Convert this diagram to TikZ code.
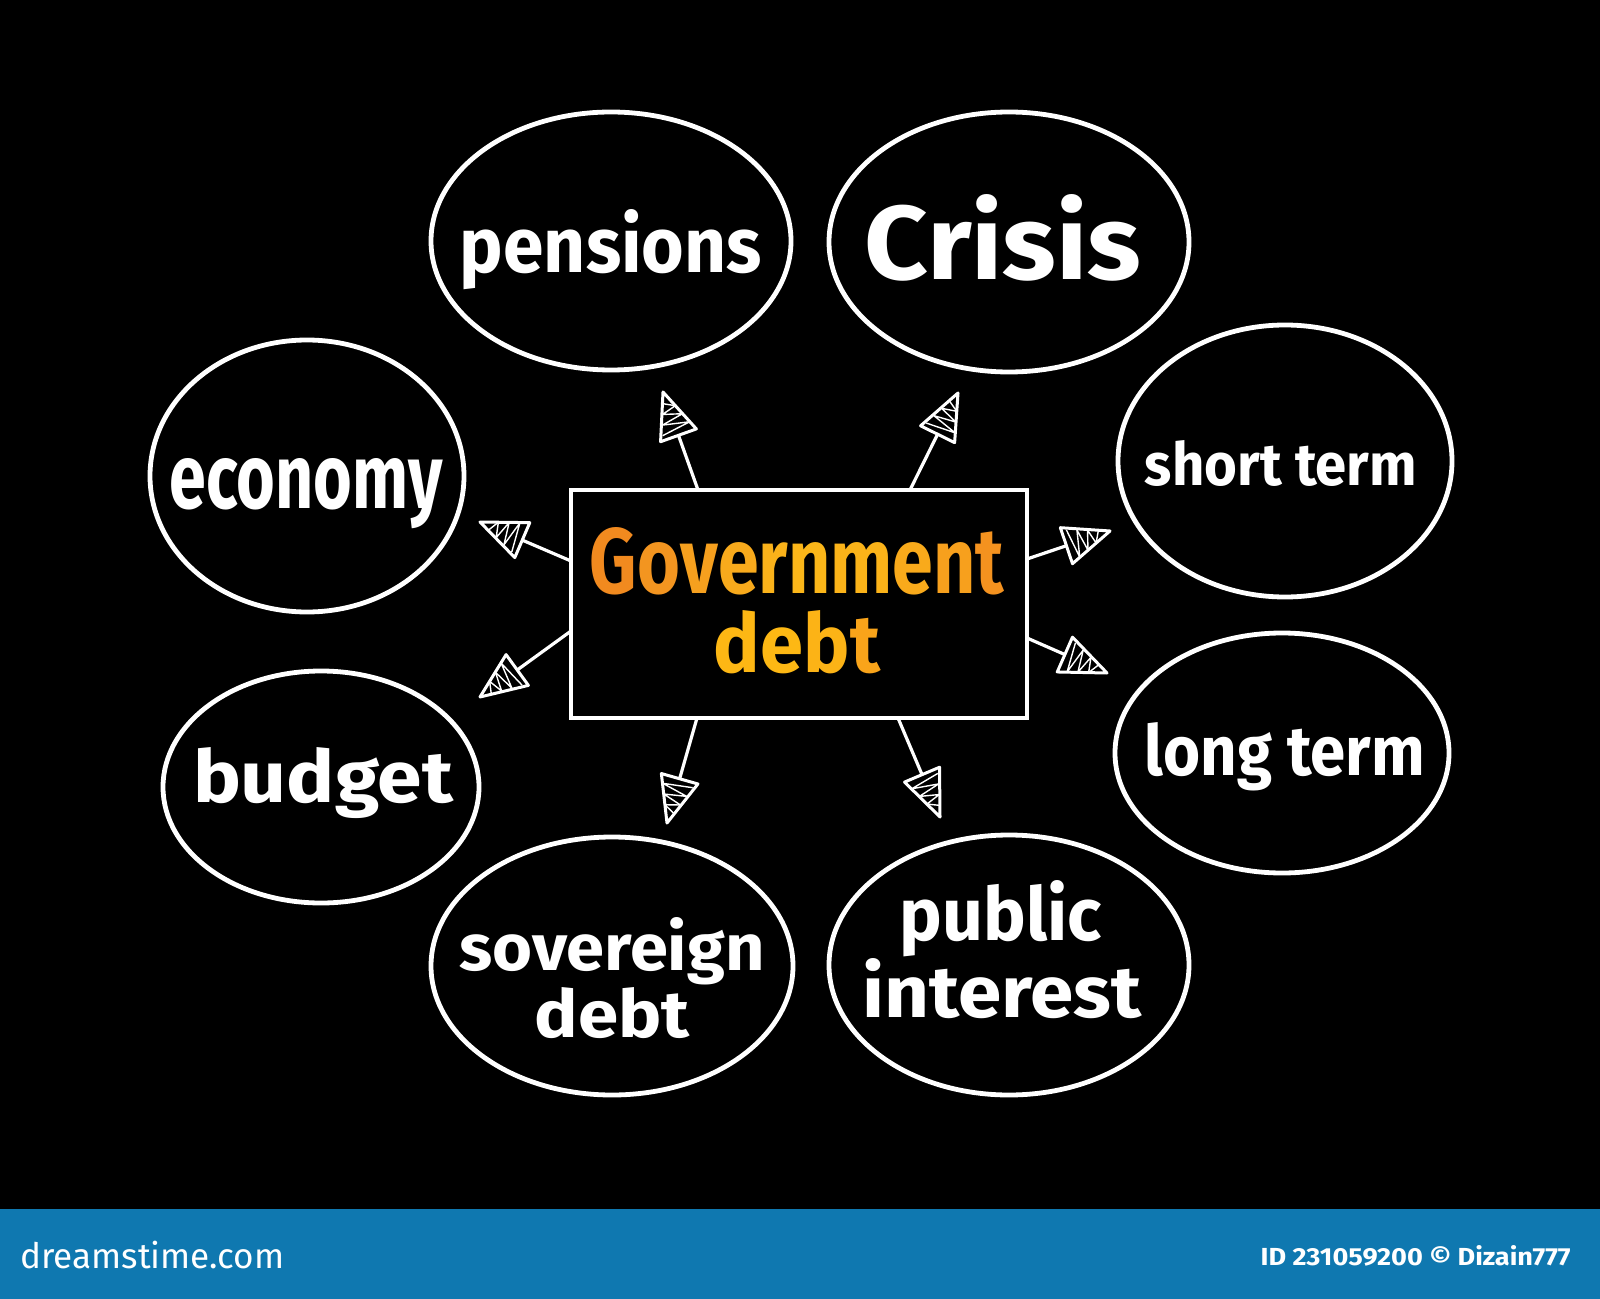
\documentclass[tikz,border=0pt]{standalone}
\usepackage{fontspec}
\setmainfont{Fira Sans}
\usetikzlibrary{shapes.geometric,calc}
\definecolor{barblue}{HTML}{0F78B0}
\newcommand\fitwh[3]{\resizebox{#1pt}{#2pt}{#3}}
\newcommand\gc[2]{\textcolor[HTML]{#1}{#2}}
\newcommand\harrow[2]{%
  \draw[conn] (#1) -- ($(#2)!20pt!(#1)$);
  \path let \p1=($(#2)-(#1)$), \n1={atan2(\y1,\x1)} in (#2) pic[rotate=\n1] {ahead};}
\tikzset{
  ahead/.pic={
    \draw[white,line width=1.5pt,line join=round,fill=black] (0pt,0pt) -- (-23pt,9.5pt) -- (-23pt,-9.5pt) -- cycle;
    \draw[white,line width=0.7pt,line join=round] (-20.5pt,7.5pt)--(-18.5pt,-7.5pt)--(-15.5pt,5.8pt)--(-13.5pt,-5.5pt)--(-10.5pt,4pt)--(-8.5pt,-3.5pt)--(-5.5pt,2pt);
  }
}
\begin{document}
\begin{tikzpicture}[x=0.5pt,y=-0.5pt,
  bubble/.style={draw=white, line width=2.4pt, ellipse, inner sep=0pt},
  txt/.style={text=white, inner sep=0pt, anchor=base, font=\bfseries},
  gtxt/.style={inner sep=0pt, anchor=base, font=\bfseries},
  conn/.style={draw=white, line width=1.6pt, line cap=round}]
\fill[black] (0,0) rectangle (1600,1299);
\useasboundingbox (0,0) rectangle (1600,1299);
\fill[barblue] (0,1209) rectangle (1600,1299);

% bubbles
\node[bubble, minimum width=180pt, minimum height=129pt] (pens) at (611,241) {};
\node[bubble, minimum width=180pt, minimum height=130pt] (cris) at (1009,242) {};
\node[bubble, minimum width=157pt, minimum height=136pt] (econ) at (307,476) {};
\node[bubble, minimum width=167pt, minimum height=136pt] (shrt) at (1285,461) {};
\node[bubble, minimum width=158pt, minimum height=116pt] (budg) at (321,787) {};
\node[bubble, minimum width=167pt, minimum height=120pt] (long) at (1282,753) {};
\node[bubble, minimum width=181pt, minimum height=129pt] (sove) at (612,966) {};
\node[bubble, minimum width=180pt, minimum height=130pt] (publ) at (1009,965) {};

% labels
\node[txt] (pensT) at (611,273) {\fitwh{151}{31.5}{pensions}};
\node[txt] (crisT) at (1003,280) {\fitwh{138.5}{42.5}{Crisis}};
\node[txt] (econT) at (306,508) {\fitwh{136.5}{25}{economy}};
\node[txt] (shrtT) at (1281,485) {\fitwh{136}{22.5}{short term}};
\node[txt] (longT) at (1285,775) {\fitwh{140}{26.5}{long term}};
\node[txt] (budgT) at (323,802) {\fitwh{130}{27.5}{budget}};
\node[txt] (soveT) at (612,970) {\fitwh{152.5}{26.5}{sovereign}};
\node[txt] (sovdT) at (612,1037) {\fitwh{77.5}{25}{debt}};
\node[txt] (publT) at (1001,940) {\fitwh{101}{30}{public}};
\node[txt] (intrT) at (1002,1017) {\fitwh{139.5}{29.5}{interest}};

% centre
\node[draw=white, line width=2.4pt, minimum width=228pt, minimum height=114pt, inner sep=0pt] (gov) at (799,604) {};
\node[gtxt] (govT) at (797,593) {\fitwh{207}{33}{\gc{F18A1F}{G}\gc{F39520}{o}\gc{F6A01E}{v}\gc{F8AA1C}{e}\gc{FAB21A}{r}\gc{FBB619}{n}\gc{FBB319}{m}\gc{F9AA1B}{e}\gc{F7A01D}{n}\gc{F4921F}{t}}};
\node[gtxt] (govD) at (797,672) {\fitwh{83}{31}{\gc{FDB714}{d}\gc{FDB814}{e}\gc{FCB316}{b}\gc{F9A41A}{t}}};

% arrows
\coordinate (s1) at (698,490); \coordinate (t1) at (663,392);
\coordinate (s2) at (910,490); \coordinate (t2) at (958,393);
\coordinate (s3) at (571,561); \coordinate (t3) at (480,522);
\coordinate (s4) at (1027,559); \coordinate (t4) at (1110,531);
\coordinate (s5) at (571,631); \coordinate (t5) at (480,697);
\coordinate (s6) at (1027,638); \coordinate (t6) at (1107,673);
\coordinate (s7) at (697,718); \coordinate (t7) at (667,823);
\coordinate (s8) at (898,718); \coordinate (t8) at (940,817);
\harrow{s1}{t1}
\harrow{s2}{t2}
\harrow{s3}{t3}
\harrow{s4}{t4}
\harrow{s5}{t5}
\harrow{s6}{t6}
\harrow{s7}{t7}
\harrow{s8}{t8}

% bottom bar
\node[anchor=base west, text=white, inner sep=0pt] (brand) at (20,1268) {\resizebox{132pt}{!}{dreamstime.com}};
\node[anchor=base east, text=white, inner sep=0pt, font=\bfseries] (ident) at (1571,1265) {\resizebox{155pt}{10pt}{ID 231059200 © Dizain777}};
\end{tikzpicture}
\end{document}
